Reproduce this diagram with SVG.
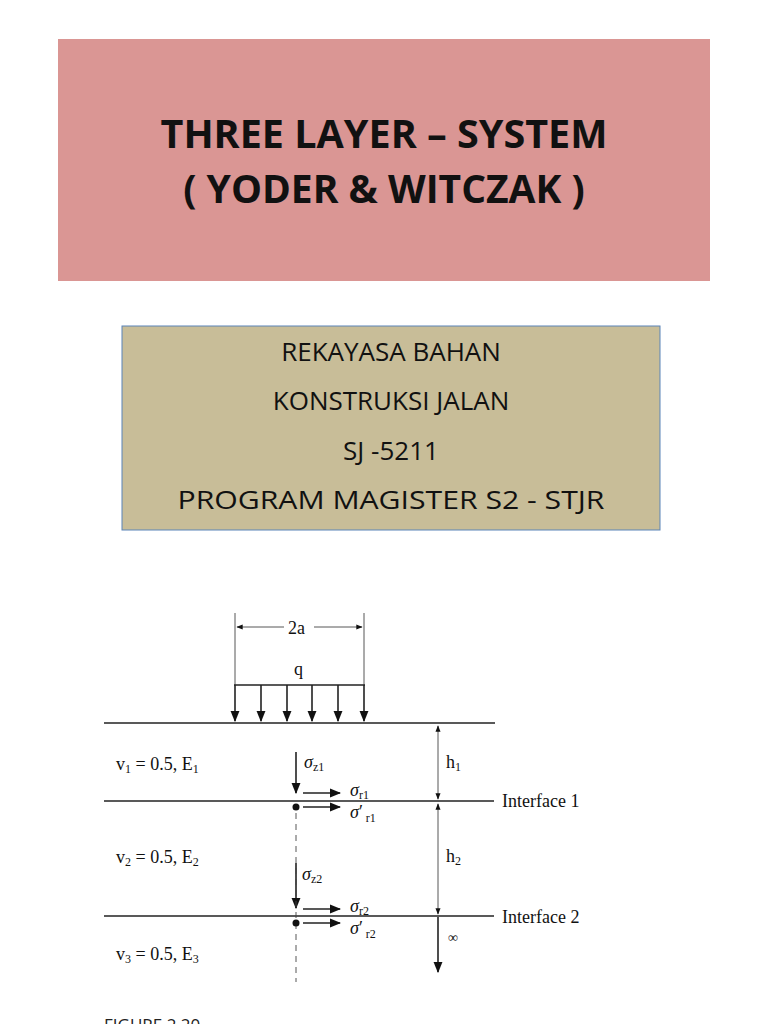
<svg xmlns="http://www.w3.org/2000/svg" width="768" height="1024" viewBox="0 0 768 1024">
<defs>
<style>
.t{font-family:"Liberation Serif",serif;font-size:18px;fill:#111}
.s{font-size:12px}
.ln{stroke:#222;stroke-width:1.6;fill:none}
.th{stroke:#444;stroke-width:0.9;fill:none}
</style>
<marker id="ah" viewBox="0 0 10 10" refX="9" refY="5" markerWidth="7" markerHeight="7" orient="auto-start-reverse"><path d="M0,1 L10,5 L0,9 z" fill="#111"/></marker>
</defs>
<rect width="768" height="1024" fill="#fff"/>
<g id="title">
<rect x="58" y="39" width="652" height="242" fill="#DA9694"/>
<text x="384" y="148" text-anchor="middle" font-family="Open Sans, sans-serif" font-weight="bold" font-size="39" textLength="447" lengthAdjust="spacingAndGlyphs" fill="#111">THREE LAYER – SYSTEM</text>
<text x="384" y="203" text-anchor="middle" font-family="Open Sans, sans-serif" font-weight="bold" font-size="39" fill="#111">( YODER &amp; WITCZAK )</text>
</g>
<g id="subtitle" font-family="Open Sans, sans-serif" font-size="26" fill="#111" text-anchor="middle">
<rect x="122" y="326" width="538" height="204" fill="#C8BD98" stroke="#5B84B8" stroke-width="1"/>
<text x="391" y="361">REKAYASA BAHAN</text>
<text x="391" y="410">KONSTRUKSI JALAN</text>
<text x="391" y="460">SJ -5211</text>
<text x="391" y="509" textLength="427" lengthAdjust="spacingAndGlyphs">PROGRAM MAGISTER S2 - STJR</text>
</g>
<g id="connectors">
<line class="ln" x1="104" y1="723" x2="495" y2="723"/>
<line class="ln" x1="104" y1="801" x2="494" y2="801"/>
<line class="ln" x1="104" y1="916" x2="494" y2="916"/>
<line class="th" x1="235" y1="613" x2="235" y2="685"/>
<line class="th" x1="364" y1="613" x2="364" y2="685"/>
<line class="th" x1="237" y1="627" x2="284" y2="627" marker-start="url(#ah)"/>
<line class="th" x1="314" y1="627" x2="362" y2="627" marker-end="url(#ah)"/>
<line class="ln" x1="234" y1="685" x2="365" y2="685"/>
<g class="ln" marker-end="url(#ah)">
<line x1="235" y1="685" x2="235" y2="721"/><line x1="261" y1="685" x2="261" y2="721"/>
<line x1="287" y1="685" x2="287" y2="721"/><line x1="312" y1="685" x2="312" y2="721"/>
<line x1="338" y1="685" x2="338" y2="721"/><line x1="364" y1="685" x2="364" y2="721"/>
<line x1="296" y1="752" x2="296" y2="793"/>
<line x1="296" y1="863" x2="296" y2="908"/>
<line x1="303" y1="793" x2="340" y2="793"/>
<line x1="303" y1="807" x2="340" y2="807"/>
<line x1="303" y1="909" x2="340" y2="909"/>
<line x1="303" y1="923" x2="340" y2="923"/>
</g>
<line class="th" x1="438" y1="726" x2="438" y2="799" marker-start="url(#ah)" marker-end="url(#ah)"/>
<line class="th" x1="438" y1="804" x2="438" y2="914" marker-start="url(#ah)" marker-end="url(#ah)"/>
<line class="ln" x1="438" y1="917" x2="438" y2="972" marker-end="url(#ah)"/>
<line class="th" x1="296" y1="813" x2="296" y2="982" stroke-dasharray="6,5"/>
<circle cx="296" cy="807" r="3.5" fill="#111"/>
<circle cx="296" cy="923" r="3.5" fill="#111"/>
</g>
<g id="labels" class="t">
<text x="288" y="634">2a</text>
<text x="294" y="675">q</text>
<text x="116" y="770">v<tspan class="s" dy="3">1</tspan><tspan dy="-3"> = 0.5, E</tspan><tspan class="s" dy="3">1</tspan></text>
<text x="116" y="863">v<tspan class="s" dy="3">2</tspan><tspan dy="-3"> = 0.5, E</tspan><tspan class="s" dy="3">2</tspan></text>
<text x="116" y="960">v<tspan class="s" dy="3">3</tspan><tspan dy="-3"> = 0.5, E</tspan><tspan class="s" dy="3">3</tspan></text>
<text x="304" y="768" font-style="italic">σ<tspan class="s" font-style="normal" dy="3">z1</tspan></text>
<text x="302" y="880" font-style="italic">σ<tspan class="s" font-style="normal" dy="3">z2</tspan></text>
<text x="350" y="796" font-style="italic">σ<tspan class="s" font-style="normal" dy="3">r1</tspan></text>
<text x="350" y="818" font-style="italic">σ<tspan font-style="normal">′</tspan><tspan class="s" font-style="normal" dy="4"> r1</tspan></text>
<text x="350" y="912" font-style="italic">σ<tspan class="s" font-style="normal" dy="3">r2</tspan></text>
<text x="350" y="934" font-style="italic">σ<tspan font-style="normal">′</tspan><tspan class="s" font-style="normal" dy="4"> r2</tspan></text>
<text x="446" y="768">h<tspan class="s" dy="3">1</tspan></text>
<text x="446" y="862">h<tspan class="s" dy="3">2</tspan></text>
<text x="448" y="942" font-size="14">∞</text>
<text x="502" y="807">Interface 1</text>
<text x="502" y="923">Interface 2</text>
</g>
<text x="104" y="1031" font-family="Open Sans, sans-serif" font-size="17" fill="#222">FIGURE 2.20</text>
</svg>
